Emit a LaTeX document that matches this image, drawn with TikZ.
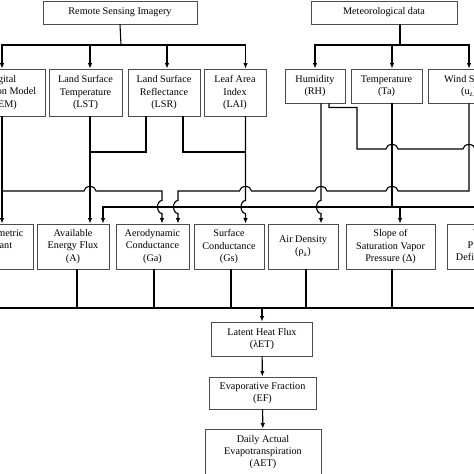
\documentclass[tikz,border=0pt]{standalone}
\usepackage{fontspec}
\setmainfont{Liberation Serif}
\usetikzlibrary{arrows.meta}
\tikzset{
  box/.style={draw=black!70, line width=0.9pt, align=center, inner sep=0pt,
    font=\fontsize{10.2}{12.2}\selectfont},
  wire/.style={line width=1.1pt},
  hop/.style={}
}
\newcommand{\hhop}{arc[start angle=180,end angle=0,x radius=6pt,y radius=4.5pt]}
\newcommand{\lhop}{arc[start angle=0,end angle=180,x radius=6pt,y radius=4.5pt]}
\newcommand{\vhop}{arc[start angle=90,end angle=270,x radius=4.5pt,y radius=6.5pt]}
\begin{document}
\begin{tikzpicture}[x=1pt,y=1pt,>={Latex[length=5.5pt,width=4.5pt]}]
\path[use as bounding box] (0,0) rectangle (474,-474);
\clip (0,0) rectangle (474,-474);

\node[box, minimum width=154pt, minimum height=23pt] (rsi) at (120,-12.5) {Remote Sensing Imagery};
\node[box, minimum width=146pt, minimum height=23pt] (met) at (384,-12.5) {Meteorological data};

\node[box, minimum width=86pt, minimum height=47pt] (dem) at (2,-92.5) {Digital\\Elevation Model\\(DEM)};
\node[box, minimum width=73pt, minimum height=47pt] (lst) at (85.5,-92.5) {Land Surface\\Temperature\\(LST)};
\node[box, minimum width=72pt, minimum height=47pt] (lsr) at (164,-92.5) {Land Surface\\Reflectance\\(LSR)};
\node[box, minimum width=62pt, minimum height=47pt] (lai) at (235,-92.5) {Leaf Area\\Index\\(LAI)};
\node[box, minimum width=60pt, minimum height=34pt] (rh) at (315,-86) {Humidity\\(RH)};
\node[box, minimum width=71pt, minimum height=34pt] (ta) at (386.5,-86) {Temperature\\(Ta)};
\node[box, minimum width=82pt, minimum height=34pt] (uz) at (469,-86) {Wind Speed\\(u\textsubscript{z})};

\node[box, minimum width=78pt, minimum height=45pt] (gam) at (-6,-246.5) {Psychrometric\\Constant\\(γ)};
\node[box, minimum width=72pt, minimum height=45pt] (A) at (73,-246.5) {Available\\Energy Flux\\(A)};
\node[box, minimum width=73pt, minimum height=45pt] (ga) at (152.5,-246.5) {Aerodynamic\\Conductance\\(Ga)};
\node[box, minimum width=70pt, minimum height=45pt] (gs) at (229,-246.5) {Surface\\Conductance\\(Gs)};
\node[box, minimum width=70pt, minimum height=45pt] (rho) at (303,-246.5) {Air Density\\(ρ\textsubscript{a})};
\node[box, minimum width=89pt, minimum height=45pt] (slope) at (390.5,-246.5) {Slope of\\Saturation Vapor\\Pressure (Δ)};
\node[box, minimum width=76pt, minimum height=45pt] (vpd) at (485,-246.5) {Vapor\\Pressure\\Deficit (VPD)};

\node[box, minimum width=101pt, minimum height=34pt] (lhf) at (262,-339) {Latent Heat Flux\\(λET)};
\node[box, minimum width=107pt, minimum height=32pt] (ef) at (262.5,-393) {Evaporative Fraction\\(EF)};
\node[box, minimum width=116pt, minimum height=46pt] (aet) at (263,-452) {Daily Actual\\Evapotranspiration\\(AET)};

% inputs
\coordinate (rsb) at (121,-45);
\coordinate (mb) at (400,-45);
\draw[wire] (rsi.south) -- (rsb);
\draw[wire,->] (rsb) -| (dem.north);
\draw[wire,->] (rsb) -| ([xshift=4.5pt]lst.north);
\draw[wire,->] (rsb) -| ([xshift=3pt]lsr.north);
\draw[wire,->] (rsb) -| ([xshift=10.5pt]lai.north);
\draw[wire] ([xshift=16pt]met.south) -- (mb);
\draw[wire,->] (mb) -| (rh.north);
\draw[wire,->] (mb) -| ([xshift=5.5pt]ta.north);
\draw[wire,->] (mb) -| (uz.north);

% first row to second row
\draw[wire,->] (dem.south) -- (dem.south |- gam.north);
\draw[wire,->] (2,-191) -- (84,-191) \hhop -- (162,-191) -- (162,-200.5) \vhop -- ([xshift=9.5pt]ga.north);
\draw[wire,->] ([xshift=4.5pt]lst.south) -- ([xshift=17pt]A.north);
\draw[wire] ([xshift=-18pt]lsr.south) |- (90,-152);
\draw[wire] ([xshift=19pt]lsr.south) |- (245.5,-152);
\draw[wire,->] ([xshift=10.5pt]lai.south) -- (245.5,-200.5) \vhop -- ([xshift=16.5pt]gs.north);
\draw[wire,->] ([xshift=6pt]rh.south) -- (321,-200.5) \vhop -- ([xshift=18pt]rho.north);
\draw[wire,->] ([xshift=14pt]rh.south) -- ++(0,-4) -| (357,-149) -- (386,-149) \hhop -- (463,-149) \hhop -- (500,-149) -- ([xshift=15pt]vpd.north);
\coordinate (tb) at (392,-207);
\draw[wire] ([xshift=5.5pt]ta.south) -- (tb);
\draw[wire,->] (tb) -| ([xshift=30pt]A.north);
\draw[wire,->] (tb) -| ([xshift=9.5pt]slope.north);
\draw[wire,->] (tb) -| ([xshift=7pt]vpd.north);
\draw[wire,->] (uz.south) -- (469,-191) -- (398,-191) \lhop -- (327,-191) \lhop -- (251.5,-191) \lhop -- (178,-191) -- (178,-200.5) \vhop -- ([xshift=25.5pt]ga.north);

% second row to output
\coordinate (eb) at (262,-308);
\draw[wire] (gam.south) |- (eb) -| (vpd.south);
\draw[wire] ([xshift=4pt]A.south) |- (eb);
\draw[wire] ([xshift=1.5pt]ga.south) |- (eb);
\draw[wire] ([xshift=2pt]gs.south) |- (eb);
\draw[wire] ([xshift=3pt]rho.south) |- (eb);
\draw[wire] ([xshift=1.5pt]slope.south) |- (eb);
\draw[wire,->] (eb) -- (lhf.north);
\draw[wire,->] (lhf) -- (ef);
\draw[wire,->] (ef) -- (aet);
\end{tikzpicture}
\end{document}
